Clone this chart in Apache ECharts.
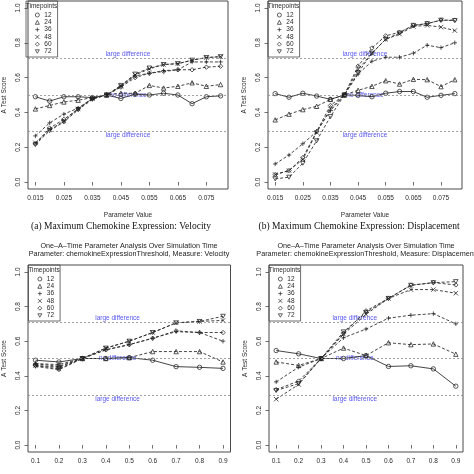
<!DOCTYPE html>
<html><head><meta charset="utf-8">
<script src="https://cdn.jsdelivr.net/npm/echarts@6/dist/echarts.min.js"></script>
<style>html,body{margin:0;padding:0;background:#fff}#c{width:474px;height:474px}</style>
</head><body><div id="c"></div>
<script>
// ---------- data ----------
const timepoints = ['12','24','36','48','60','72'];
const xTop = [0.015,0.02,0.025,0.03,0.035,0.04,0.045,0.05,0.055,0.06,0.065,0.07,0.075,0.08];
const xBottom = [0.1,0.2,0.3,0.4,0.5,0.6,0.7,0.8,0.9];
const xTicksTop = [0.015,0.025,0.035,0.045,0.055,0.065,0.075];
const xTicksBottom = [0.1,0.2,0.3,0.4,0.5,0.6,0.7,0.8,0.9];
const yTicks = [0,0.2,0.4,0.6,0.8,1.0];
const refLines = [0.71,0.5,0.29];
const refLabels = ['large difference','no difference','large difference'];

// (a) Maximum chemokine expression: velocity
const aT12 = [0.49,0.465,0.49,0.49,0.485,0.50,0.48,0.505,0.50,0.51,0.50,0.45,0.49,0.495];
const aT24 = [0.42,0.44,0.46,0.47,0.485,0.50,0.51,0.51,0.555,0.54,0.55,0.57,0.55,0.56];
const aT36 = [0.265,0.34,0.39,0.425,0.48,0.50,0.55,0.61,0.625,0.64,0.645,0.69,0.69,0.69];
const aT48 = [0.225,0.30,0.35,0.42,0.48,0.50,0.55,0.615,0.65,0.675,0.68,0.70,0.715,0.72];
const aT60 = [0.22,0.31,0.36,0.42,0.48,0.50,0.545,0.60,0.625,0.635,0.645,0.645,0.66,0.665];
const aT72 = [0.215,0.295,0.345,0.415,0.475,0.50,0.555,0.62,0.655,0.675,0.68,0.70,0.715,0.72];

// (b) Maximum chemokine expression: displacement
const bT12 = [0.508,0.487,0.51,0.494,0.475,0.50,0.498,0.49,0.51,0.52,0.52,0.487,0.498,0.508];
const bT24 = [0.357,0.39,0.416,0.435,0.475,0.50,0.527,0.55,0.582,0.563,0.59,0.588,0.548,0.588];
const bT36 = [0.104,0.155,0.22,0.29,0.41,0.50,0.62,0.694,0.717,0.717,0.74,0.786,0.772,0.80];
const bT48 = [0.043,0.066,0.13,0.285,0.42,0.50,0.647,0.74,0.82,0.85,0.894,0.90,0.89,0.87];
const bT60 = [0.043,0.066,0.14,0.29,0.44,0.50,0.666,0.77,0.84,0.86,0.90,0.91,0.93,0.93];
const bT72 = [0.018,0.028,0.108,0.237,0.376,0.50,0.628,0.74,0.82,0.856,0.90,0.91,0.93,0.928];

// (c) chemokineExpressionThreshold: velocity
const cT12 = [0.49,0.48,0.50,0.50,0.505,0.49,0.453,0.449,0.443];
const cT24 = [0.47,0.465,0.50,0.50,0.505,0.54,0.54,0.54,0.48];
const cT36 = [0.47,0.455,0.50,0.55,0.58,0.617,0.655,0.65,0.60];
const cT48 = [0.46,0.44,0.50,0.56,0.60,0.65,0.706,0.714,0.72];
const cT60 = [0.46,0.45,0.50,0.55,0.58,0.617,0.66,0.65,0.65];
const cT72 = [0.455,0.435,0.50,0.56,0.60,0.65,0.706,0.714,0.744];

// (d) chemokineExpressionThreshold: displacement
const dT12 = [0.546,0.527,0.50,0.50,0.517,0.454,0.458,0.44,0.34];
const dT24 = [0.48,0.46,0.50,0.56,0.517,0.591,0.58,0.584,0.525];
const dT36 = [0.365,0.45,0.50,0.62,0.67,0.733,0.75,0.759,0.70];
const dT48 = [0.265,0.35,0.50,0.64,0.755,0.847,0.898,0.898,0.877];
const dT60 = [0.32,0.37,0.50,0.645,0.775,0.847,0.923,0.938,0.925];
const dT72 = [0.315,0.355,0.50,0.654,0.765,0.847,0.923,0.938,0.944];

const captionA = '(a) Maximum Chemokine Expression: Velocity';
const captionB = '(b) Maximum Chemokine Expression: Displacement';
const titleC = 'One\u2013A\u2013Time Parameter Analysis Over Simulation Time\nParameter: chemokineExpressionThreshold, Measure: Velocity';
const titleD = 'One\u2013A\u2013Time Parameter Analysis Over Simulation Time\nParameter: chemokineExpressionThreshold, Measure: Displacement';

// ---------- styling / layout ----------
const FONT = 'Liberation Sans';
const INK = '#2a2a2a';
const symbols = ['circle','triangle','path://M5,0L5,10M0,5L10,5','path://M0,0L10,10M0,10L10,0','diamond','path://M0,0L10,0L5,8.66Z'];

const panels = [
  {grid:{left:26,top:1,width:202,height:188}, x:xTop, min:0.0124, max:0.0826, ticks:xTicksTop, dec:3, labelX:0.0475,
   data:[aT12,aT24,aT36,aT48,aT60,aT72], legend:{left:26,top:1}, xName:'Parameter Value'},
  {grid:{left:268,top:1,width:194,height:188}, x:xTop, min:0.0124, max:0.0826, ticks:xTicksTop, dec:3, labelX:0.0475,
   data:[bT12,bT24,bT36,bT48,bT60,bT72], legend:{left:268,top:1}, xName:'Parameter Value'},
  {grid:{left:27.5,top:265,width:203,height:187}, x:xBottom, min:0.068, max:0.932, ticks:xTicksBottom, dec:1, labelX:0.45,
   data:[cT12,cT24,cT36,cT48,cT60,cT72], legend:{left:28.5,top:265}, xName:''},
  {grid:{left:269,top:265,width:194,height:187}, x:xBottom, min:0.068, max:0.932, ticks:xTicksBottom, dec:1, labelX:0.45,
   data:[dT12,dT24,dT36,dT48,dT60,dT72], legend:{left:269,top:265}, xName:''}
];

const grids = [], xAxes = [], yAxes = [], series = [], legends = [];
const titles = [];
const labelFs = 6.5;

panels.forEach((p, pi) => {
  grids.push(Object.assign({show:true, borderColor:'#4a4a4a', borderWidth:1, backgroundColor:'transparent'}, p.grid));
  xAxes.push({
    type:'value', gridIndex:pi, min:p.min, max:p.max,
    axisLine:{show:false},
    axisTick:{show:true, length:3.5, lineStyle:{color:'#4a4a4a', width:0.8}, customValues:p.ticks},
    axisLabel:{show:true, customValues:p.ticks, margin:6, fontSize:labelFs, fontFamily:FONT, color:INK,
               formatter:v=>Number(v).toFixed(p.dec)},
    splitLine:{show:false},
    name:p.xName, nameLocation:'middle', nameGap:23,
    nameTextStyle:{fontSize:labelFs, fontFamily:FONT, color:INK}
  });
  yAxes.push({
    type:'value', gridIndex:pi, min:-0.04, max:1.04,
    axisLine:{show:false},
    axisTick:{show:true, length:3.5, lineStyle:{color:'#4a4a4a', width:0.8}, customValues:yTicks},
    axisLabel:{show:true, customValues:yTicks, rotate:90, margin:6, fontSize:labelFs, fontFamily:FONT, color:INK,
               formatter:v=>Number(v).toFixed(1)},
    splitLine:{show:false},
    name:'A Test Score', nameLocation:'middle', nameGap:20, nameRotate:90,
    nameTextStyle:{fontSize:labelFs, fontFamily:FONT, color:INK}
  });
  // reference lines and their labels
  series.push({
    type:'scatter', xAxisIndex:pi, yAxisIndex:pi, symbolSize:0, silent:true, z:1,
    data: refLines.map((y,i)=>({
      value:[p.labelX, y], name:refLabels[i],
      label:{position: i===0 ? 'top' : (i===2 ? 'bottom' : 'inside'), distance:0.5}
    })),
    label:{show:true, formatter:(d)=>d.name, fontSize:labelFs, fontFamily:FONT, color:'#2b2bea'},
    markLine:{silent:true, symbol:['none','none'], label:{show:false},
      lineStyle:{color:'#8a8a8a', type:[2,2], width:0.8},
      data: refLines.map(y=>({yAxis:y}))}
  });
  timepoints.forEach((t, ti) => {
    series.push({
      type:'line', name:t, xAxisIndex:pi, yAxisIndex:pi, z:3,
      data: p.x.map((xv, k) => [xv, p.data[ti][k]]),
      symbol: symbols[ti], symbolSize: ti===5 ? [4.6,4] : 4.4,
      showSymbol:true,
      lineStyle:{color:'#303030', width:0.9, type: ti===0 ? 'solid' : [3,2]},
      itemStyle:{color:'rgba(0,0,0,0)', borderColor:'#222', borderWidth:0.75},
      emphasis:{disabled:true}
    });
  });
  legends.push({
    orient:'vertical', left:p.legend.left, top:p.legend.top,
    padding:[10.5,6,2,9], itemGap:0.3, itemWidth:4, itemHeight:4,
    borderColor:'#4a4a4a', borderWidth:0.8, selectedMode:false,
    textStyle:{fontSize:labelFs, fontFamily:FONT, color:INK, lineHeight:7},
    itemStyle:{color:'rgba(0,0,0,0)', borderColor:'#222', borderWidth:0.7},
    data: timepoints.map((t,ti)=>({name:t, icon:symbols[ti]}))
  });
  titles.push({text:'Timepoints', left:p.legend.left+15.5, top:p.legend.top+5.5, textAlign:'center', textVerticalAlign:'middle',
    padding:0, textStyle:{fontSize:labelFs, fontFamily:FONT, color:INK, fontWeight:'normal'}});
});

titles.push({text:captionA, left:121, top:226, textAlign:'center', textVerticalAlign:'middle', padding:0,
  textStyle:{fontFamily:'Liberation Serif', fontSize:9.5, color:'#111', fontWeight:'normal'}});
titles.push({text:captionB, left:359, top:226, textAlign:'center', textVerticalAlign:'middle', padding:0,
  textStyle:{fontFamily:'Liberation Serif', fontSize:9.5, color:'#111', fontWeight:'normal'}});
titles.push({text:titleC, left:129, top:250, textAlign:'center', textVerticalAlign:'middle', padding:0,
  textStyle:{fontFamily:FONT, fontSize:7.2, lineHeight:8, color:'#222', fontWeight:'normal'}});
titles.push({text:titleD, left:366, top:250, textAlign:'center', textVerticalAlign:'middle', padding:0,
  textStyle:{fontFamily:FONT, fontSize:7.2, lineHeight:8, color:'#222', fontWeight:'normal'}});

const chart = echarts.init(document.getElementById('c'), null, {renderer:'canvas'});
chart.setOption({
  backgroundColor:'#fff',
  animation:false,
  title:titles,
  legend:legends,
  grid:grids,
  xAxis:xAxes,
  yAxis:yAxes,
  tooltip:{show:false},
  series:series
});
</script>
</body></html>
